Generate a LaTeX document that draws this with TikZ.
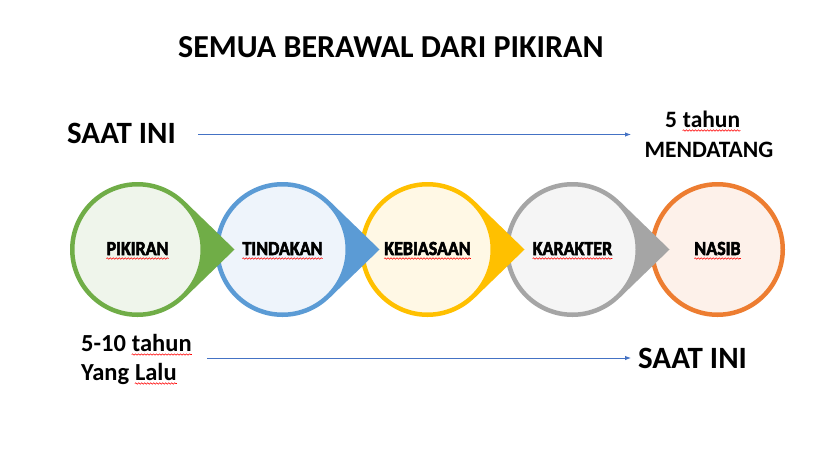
\documentclass[tikz,border=0pt]{standalone}
\usepackage{fontspec}
\setmainfont{Carlito}
\newfontfamily\lblfont[FakeStretch=0.9,FakeBold=2.6]{Carlito Bold}
\usetikzlibrary{calc,arrows.meta,decorations.pathmorphing}
\definecolor{cgreen}{HTML}{70AD47}\definecolor{fgreen}{HTML}{EFF5EB}
\definecolor{cblue}{HTML}{5B9BD5}\definecolor{fblue}{HTML}{EEF4FB}
\definecolor{cyellow}{HTML}{FFC000}\definecolor{fyellow}{HTML}{FFF8E5}
\definecolor{cgray}{HTML}{A5A5A5}\definecolor{fgray}{HTML}{F5F5F5}
\definecolor{corange}{HTML}{ED7D31}\definecolor{forange}{HTML}{FDF1EA}
\definecolor{arrblue}{HTML}{4472C4}
\tikzset{
  circ/.style={circle, line width=4.5pt, minimum size=130.5pt, inner sep=0pt},
  txt/.style={inner sep=0pt},
  lbl/.style={inner sep=0pt, font=\lblfont\fontsize{20}{24}\selectfont},
  arr/.style={draw=arrblue, line width=0.9pt, -{Latex[length=6pt,width=4.5pt]}},
  wave/.style={draw=red, line width=0.55pt, decorate, decoration={snake, amplitude=0.7pt, segment length=3pt}},
}
\newcommand\underwave[1]{\draw[wave] ([yshift=-3.5pt]#1.base west) -- ([yshift=-3.5pt]#1.base east);}
\newcommand\circshape[5]{%
  \node[circ, draw=#3, fill=#4] (#1) at (#2,249.5) {};
  \node[lbl, anchor=base] (#1-t) at (#2,255) {#5};
  \underwave{#1-t}
}
\newcommand\stepshape[5]{%
  \fill[#3] ($(#2,249.5)+(45.9:67.5)$) -- (#2+97,249.5) -- ($(#2,249.5)+(-45.9:67.5)$) -- cycle;
  \circshape{#1}{#2}{#3}{#4}{#5}
}
\begin{document}
\begin{tikzpicture}[x=1pt,y=-1pt]
\useasboundingbox (0,0) rectangle (819,453);
\fill[white] (0,0) rectangle (819,453);
% title
\node[txt, anchor=base west] (title) at (178,57) {\bfseries\fontsize{32}{38}\selectfont SEMUA BERAWAL DARI PIKIRAN};
% top timeline
\node[txt, anchor=base west] (now1) at (67,143) {\bfseries\fontsize{31}{36}\selectfont SAAT INI};
\node[txt, anchor=base west] (f5) at (665,127) {\bfseries\fontsize{23.5}{30}\selectfont 5};
\node[txt, anchor=base west] (ftahun) at ([xshift=5.3pt]f5.base east) {\bfseries\fontsize{23.5}{30}\selectfont tahun};
\underwave{ftahun}
\node[txt, anchor=base] (fmend) at (709,157) {\bfseries\fontsize{23.5}{30}\selectfont MENDATANG};
\coordinate (a1s) at (198,134.5);
\coordinate (a1e) at (631,134.5);
\draw[arr] (a1s) -- (a1e);
% shapes, right to left
\circshape{nasib}{717.5}{corange}{forange}{NASIB}
\stepshape{karakter}{572.5}{cgray}{fgray}{KARAKTER}
\stepshape{kebiasaan}{427.5}{cyellow}{fyellow}{KEBIASAAN}
\stepshape{tindakan}{282.5}{cblue}{fblue}{TINDAKAN}
\stepshape{pikiran}{137.5}{cgreen}{fgreen}{PIKIRAN}
% bottom timeline
\node[txt, anchor=base west] (p510) at (81,351) {\bfseries\fontsize{24.5}{29}\selectfont 5-10};
\node[txt, anchor=base west] (ptahun) at ([xshift=5.5pt]p510.base east) {\bfseries\fontsize{24.5}{29}\selectfont tahun};
\underwave{ptahun}
\node[txt, anchor=base west] (pyang) at (81,380) {\bfseries\fontsize{24.5}{29}\selectfont Yang};
\node[txt, anchor=base west] (plalu) at ([xshift=5.5pt]pyang.base east) {\bfseries\fontsize{24.5}{29}\selectfont Lalu};
\underwave{plalu}
\node[txt, anchor=base west] (now2) at (638,368) {\bfseries\fontsize{31}{36}\selectfont SAAT INI};
\coordinate (a2s) at (207,358);
\coordinate (a2e) at (631,358);
\draw[arr] (a2s) -- (a2e);
\end{tikzpicture}
\end{document}
